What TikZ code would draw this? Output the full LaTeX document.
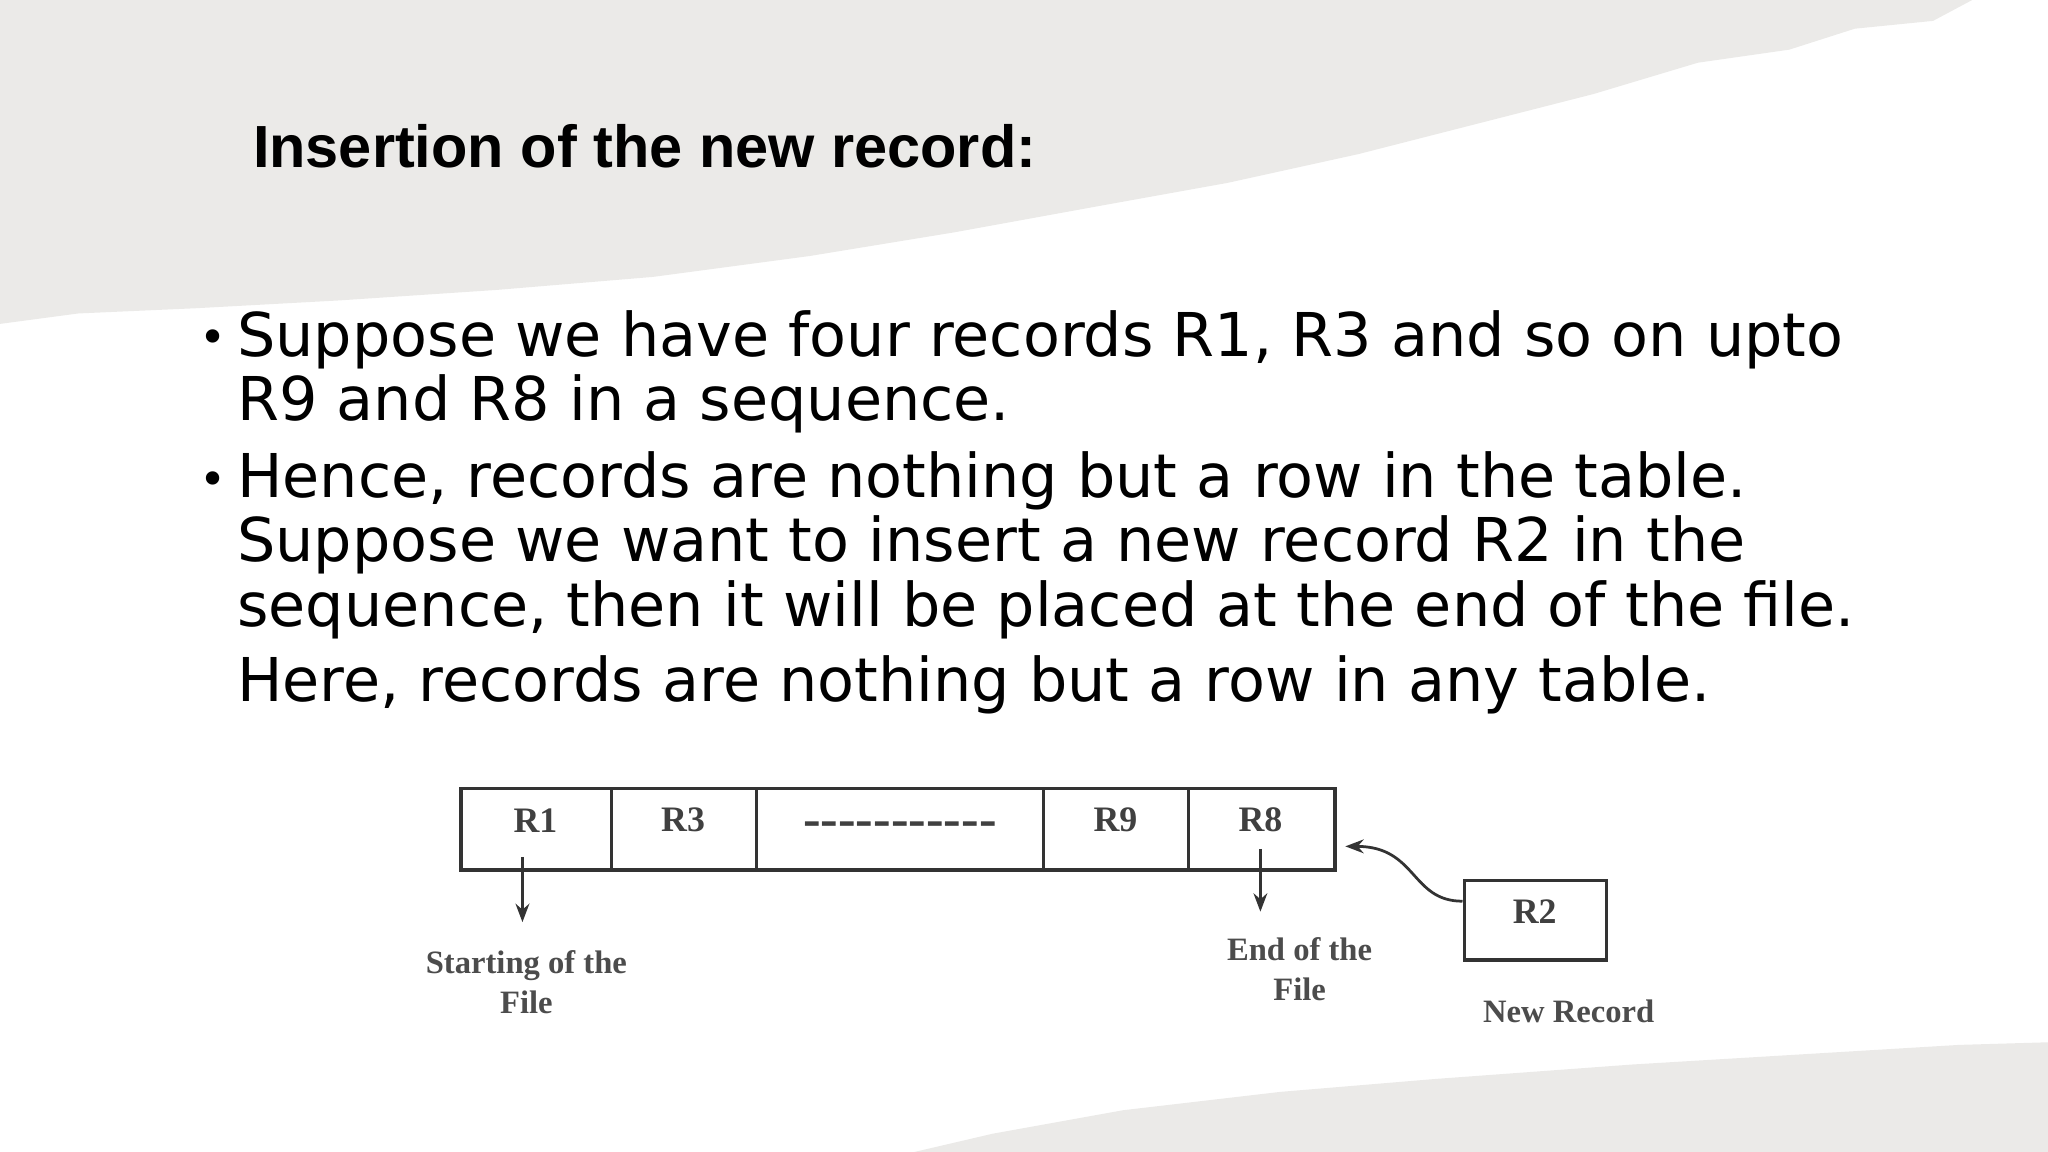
\documentclass[tikz,border=0pt]{standalone}
\usepackage{fontspec}
\setmainfont{DejaVu Sans}
\newfontfamily\titlefont{Liberation Sans}
\newfontfamily\figfont{Liberation Serif}
\usetikzlibrary{positioning,arrows.meta}
\definecolor{paper}{HTML}{EBEAE8}
\tikzset{
  recbox/.style={draw=black!80,line width=0.7pt,minimum height=0.62cm,inner sep=0pt},
  reclabel/.style={font=\figfont\fontsize{7.8}{9}\selectfont\bfseries,text=black!75},
  notelabel/.style={font=\figfont\fontsize{7.1}{8.8}\selectfont\bfseries,text=black!70,align=center},
  bodyline/.style={anchor=base west,inner sep=0pt,font=\fontsize{13.15}{15}\selectfont},
  bulletmark/.style={anchor=base west,inner sep=0pt,font=\fontsize{10}{12}\selectfont},
  ptr/.style={-{Stealth[length=4pt]},line width=0.6pt,black!80}
}
\begin{document}
\begin{tikzpicture}[x=0.01cm,y=-0.01cm]
    \useasboundingbox (0,0) rectangle (1568,882);
    % torn paper background
    \fill[paper] (0,0) -- (1510,0) -- (1480,16) -- (1420,22) -- (1370,38) -- (1300,48) -- (1220,72)
      -- (1130,95) -- (1040,118) -- (940,140) -- (840,158) -- (730,178) -- (620,196) -- (500,212)
      -- (380,222) -- (260,230) -- (150,236) -- (60,240) -- (0,248) -- cycle;
    \fill[paper] (700,882) -- (760,868) -- (860,850) -- (980,836) -- (1100,826) -- (1250,815)
      -- (1400,806) -- (1500,800) -- (1568,798) -- (1568,882) -- cycle;
    % text
    \node[anchor=base west,inner sep=0pt,font=\titlefont\fontsize{12.95}{14}\selectfont\bfseries] (title) at (193,128) {Insertion of the new record:};
    \node[bulletmark] (b1) at (152,271) {•};
    \node[bodyline] (l1) at (181,273) {Suppose we have four records R1, R3 and so on upto};
    \node[bodyline] (l2) at (181,322) {R9 and R8 in a sequence.};
    \node[bulletmark] (b2) at (152,379) {•};
    \node[bodyline] (l3) at (181,381) {Hence, records are nothing but a row in the table.};
    \node[bodyline] (l4) at (181,430) {Suppose we want to insert a new record R2 in the};
    \node[bodyline] (l5) at (181,480) {sequence, then it will be placed at the end of the file.};
    \node[bodyline] (l6) at (181,537) {Here, records are nothing but a row in any table.};
    % record file
    \node[recbox,minimum width=1.15cm] (r1) at (410.5,635) {};
    \node[recbox,minimum width=1.11cm] (r3) at (523.5,635) {};
    \node[recbox,minimum width=2.20cm] (dots) at (689,635) {};
    \node[recbox,minimum width=1.11cm] (r9) at (854.5,635) {};
    \node[recbox,minimum width=1.12cm] (r8) at (966,635) {};
    \node[reclabel] at (410,628) {R1};
    \node[reclabel] at (523,628) {R3};
    \node[reclabel,font=\figfont\fontsize{11.5}{12}\selectfont\bfseries] at (689,635) {-----------};
    \node[reclabel] at (854,628) {R9};
    \node[reclabel] at (965,628) {R8};
    \node[recbox,minimum width=1.09cm,minimum height=0.61cm] (r2) at (1175.5,704.5) {};
    \node[reclabel] at (1175,698) {R2};
    % labels
    \node[notelabel] (start) at (403,752) {Starting of the\\File};
    \node[notelabel] (end) at (995,742) {End of the\\File};
    \node[notelabel] (new) at (1201,774) {New Record};
    % pointers
    \draw[ptr] (400,656) -- (400,706);
    \draw[ptr] (965,650) -- (965,698);
    \draw[ptr] (r2.west |- 0,690) .. controls (1080,690) and (1085,648) .. (1030,648);
\end{tikzpicture}
\end{document}
